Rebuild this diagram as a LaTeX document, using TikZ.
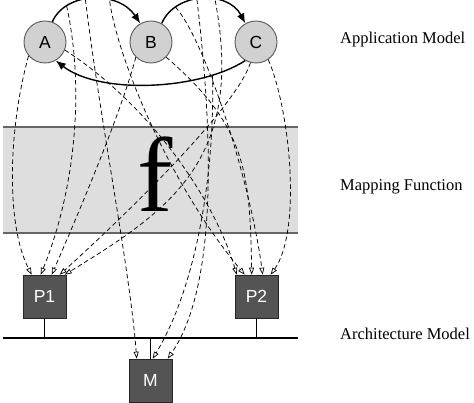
\documentclass[tikz,border=0pt]{standalone}
\usepackage{fontspec}
\setmainfont{Liberation Serif}
\newfontfamily\sansf{Liberation Sans}
\usetikzlibrary{arrows.meta,calc}
\begin{document}
\begin{tikzpicture}[x=1pt,y=-1pt,
 proc/.style={circle,draw=black!65,fill=black!18,line width=0.9pt,minimum size=42pt,inner sep=0pt,font=\sansf\fontsize{17.5}{17.5}\selectfont},
 res/.style={rectangle,draw=black!85,fill=black!67,line width=0.6pt,minimum size=43pt,inner sep=0pt,text=white,font=\sansf\fontsize{17.5}{17.5}\selectfont},
 layer/.style={anchor=west,inner sep=0pt,font=\fontsize{16.5}{18}\selectfont},
 chan/.style={line width=1.4pt,-{Latex[length=10pt,width=8pt]}},
 map/.style={line width=0.75pt,dash pattern=on 4.5pt off 3pt,-{Triangle[length=7pt,width=5pt,fill=white,line width=0.7pt]}},
 bandline/.style={draw=black!60,line width=1.3pt}]
\useasboundingbox (0,0) rectangle (474,403);
% mapping band
\fill[black!13] (3,127) rectangle (298,233);
\draw[bandline] (3,127) -- (298,127);
\draw[bandline] (3,233) -- (298,233);
\node[anchor=base,inner sep=0pt,font=\fontsize{106}{106}\selectfont] (f) at (155,212) {f};
% application model
\node[proc] (A) at (45,42) {A};
\node[proc] (B) at (151,42) {B};
\node[proc] (C) at (256,42) {C};
\draw[chan] (A.70) .. controls (65,-8) and (118,-10) .. (B.120)
  coordinate[pos=0.23] (s1) coordinate[pos=0.43] (s2) coordinate[pos=0.66] (s3);
\draw[chan] (B.60) .. controls (175,-8) and (228,-10) .. (C.120)
  coordinate[pos=0.22] (t1) coordinate[pos=0.45] (t2) coordinate[pos=0.63] (t3);
\draw[chan] (C.240) .. controls (200,90) and (100,95) .. (A.300)
  coordinate[pos=0.2] (u);
% architecture model
\node[res] (P1) at (44.5,296.5) {P1};
\node[res] (P2) at (256.5,296.5) {P2};
\node[res] (M) at (150.5,380.5) {M};
\coordinate (busL) at (3,338);
\coordinate (busR) at (298,338);
\draw[line width=1.8pt] (busL) -- (busR);
\draw[line width=0.6pt] (P1.south) -- (P1.south |- busL);
\draw[line width=0.6pt] (P2.south) -- (P2.south |- busL);
\draw[line width=0.6pt] (M.north) -- (M.north |- busL);
% arrow tip points
\coordinate (p1a) at ([xshift=9pt]P1.north west);
\coordinate (p1b) at ([xshift=18pt]P1.north west);
\coordinate (p1c) at ([xshift=29pt]P1.north west);
\coordinate (p1d) at ([xshift=37pt]P1.north west);
\coordinate (p1e) at ([xshift=42pt]P1.north west);
\coordinate (p2a) at ([xshift=2pt]P2.north west);
\coordinate (p2b) at ([xshift=10pt]P2.north west);
\coordinate (p2c) at ([xshift=17pt]P2.north west);
\coordinate (p2d) at ([xshift=28pt]P2.north west);
\coordinate (p2e) at ([xshift=36pt]P2.north west);
\coordinate (ma) at ([xshift=8pt]M.north west);
\coordinate (mb) at ([xshift=24pt]M.north west);
\coordinate (mc) at ([xshift=39pt]M.north west);
% mapping connectors
\draw[map] (A.220) .. controls (8,130) and (6,225) .. (p1a);
\draw[map] (s1) .. controls (85,90) and (75,190) .. (p1b);
\draw[map] (B.225) .. controls (122,110) and (80,210) .. (p1c);
\draw[map] (C.255) .. controls (235,110) and (120,220) .. (p1d);
\draw[map] (t3) .. controls (245,160) and (170,210) .. (p1e);
\draw[map] (s2) .. controls (100,120) and (130,270) .. (ma);
\draw[map] (u) .. controls (215,160) and (200,280) .. (mb);
\draw[map] (t2) .. controls (215,150) and (215,290) .. (mc);
\draw[map] (A.338) .. controls (150,105) and (215,200) .. (p2a);
\draw[map] (s3) .. controls (118,60) and (170,185) .. (p2b);
\draw[map] (B.315) .. controls (245,125) and (250,170) .. (p2c);
\draw[map] (t1) .. controls (205,40) and (250,180) .. (p2d);
\draw[map] (C.305) .. controls (290,110) and (302,230) .. (p2e);
% layer labels
\node[layer] (lapp) at (340,40) {Application Model};
\node[layer] (lmap) at (340,187) {Mapping Function};
\node[layer] (larch) at (340,334) {Architecture Model};
\end{tikzpicture}
\end{document}
